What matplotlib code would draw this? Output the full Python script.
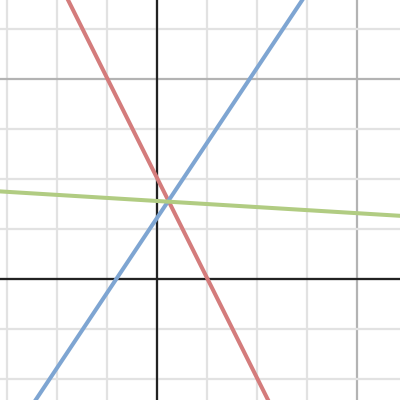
import numpy as np
import matplotlib
matplotlib.use("Agg")
import matplotlib.pyplot as plt

# three lines: y = m*x + b
slopes = [-2.0, 1.5, -0.061]
intercepts = [2.0, 1.22, 1.55]
colors = ['#d47c7c', '#7ea5d2', '#b1cc82']

xmin, xmax = -3.146, 4.854
ymin, ymax = -2.43, 5.57

fig = plt.figure(figsize=(4, 4), dpi=100)
ax = fig.add_axes([0, 0, 1, 1])
ax.set_xlim(xmin, xmax)
ax.set_ylim(ymin, ymax)

# minor grid every unit, major every 4
for gx in range(-3, 5):
    c = '#b3b3b3' if gx % 4 == 0 else '#e2e2e2'
    ax.axvline(gx, color=c, lw=1.6, zorder=1)
for gy in range(-2, 6):
    c = '#b3b3b3' if gy % 4 == 0 else '#e2e2e2'
    ax.axhline(gy, color=c, lw=1.6, zorder=1)

ax.axvline(0, color='#222222', lw=1.6, zorder=2)
ax.axhline(0, color='#222222', lw=1.6, zorder=2)

xs = np.array([xmin - 1, xmax + 1])
for m, b, c in zip(slopes, intercepts, colors):
    ax.plot(xs, m * xs + b, color=c, lw=2.9, zorder=3, solid_capstyle='butt')

ax.set_axis_off()
fig.savefig('out.png', dpi=100)
